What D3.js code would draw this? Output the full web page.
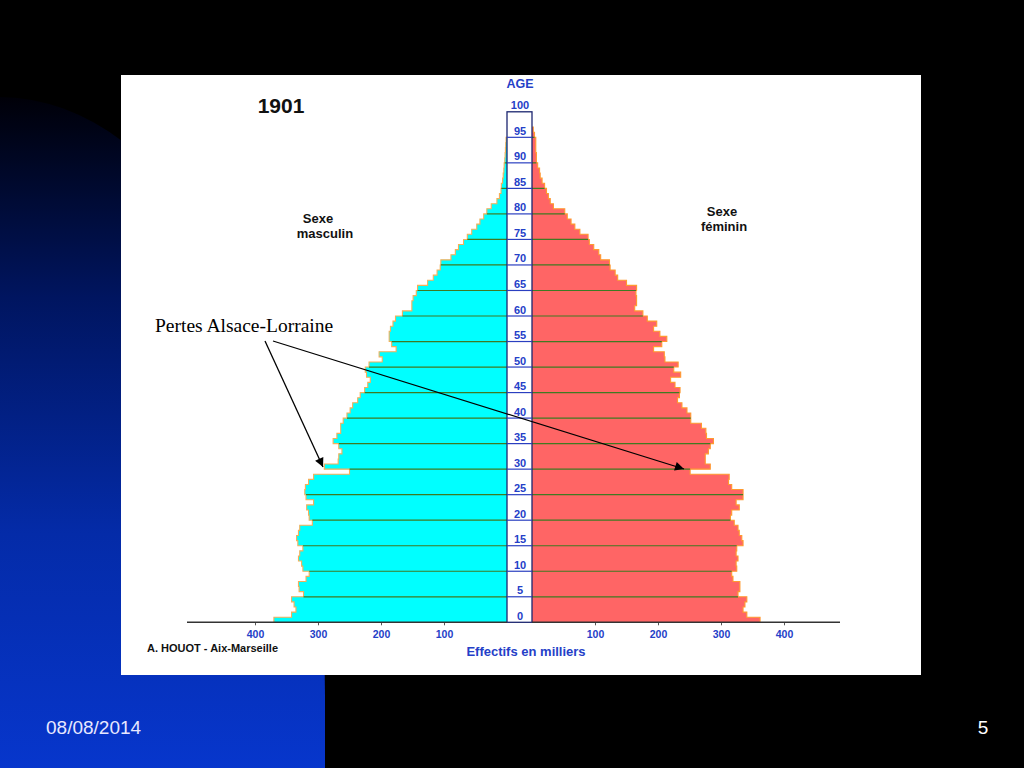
<!DOCTYPE html>
<html><head><meta charset="utf-8">
<script src="https://cdn.jsdelivr.net/npm/d3@7"></script>
<style>html,body{margin:0;padding:0;background:#000;}svg{display:block;}</style>
</head><body>
<svg id="c" width="1024" height="768"></svg>
<script>
// Population 1901, thousands, by single year of age (index = age 0..99)
const ages = d3.range(0, 100);
const males = [
 370,342,335,338,342,323,330,331,319,314,
 324,326,331,329,324,332,334,331,329,309,
 314,315,318,307,319,321,320,315,307,250,
 290,268,267,262,267,276,270,264,264,260,
 254,249,245,237,233,226,221,217,223,225,
 219,198,203,176,183,187,187,185,181,177,
 166,151,151,149,144,142,126,117,111,106,
 105,89,82,77,69,63,56,48,43,37,
 32,25,16,12,9.5,9,7,6,5,4.5,
 3.5,3,2.5,2,1.5,0,0,0,0,0];
const females = [
 362,341,335,338,341,327,330,330,319,317,
 325,324,327,324,325,335,333,329,327,321,
 315,317,329,324,335,335,317,312,313,251,
 283,275,275,280,283,288,277,276,269,252,
 252,246,238,231,234,235,227,220,236,225,
 232,211,210,193,206,214,203,193,198,183,
 176,163,166,166,165,166,150,136,132,124,
 123,109,106,98,91,89,76,68,62,56,
 52,34,29,26,23,20,16,13,12,9,
 7,7,6,6,6,4,2,0,0,0];
const ageTicks = d3.range(0, 101, 5);
const xTicks = [100, 200, 300, 400];

const svg = d3.select("#c");
const defs = svg.append("defs");
const grad = defs.append("linearGradient").attr("id","bg").attr("gradientUnits","userSpaceOnUse")
  .attr("x1",0).attr("y1",97).attr("x2",0).attr("y2",768);
[[0,"#000008"],[0.3,"#001560"],[0.65,"#042ba8"],[1,"#0736cc"]].forEach(s=>
  grad.append("stop").attr("offset",s[0]).attr("stop-color",s[1]));

svg.append("rect").attr("width",1024).attr("height",768).attr("fill","#000");
svg.append("path").attr("d","M0,97 A325,600 0 0 1 325,697 L325,768 L0,768 Z").attr("fill","url(#bg)");
svg.append("rect").attr("x",121).attr("y",75).attr("width",800).attr("height",600).attr("fill","#fff");

const y = d3.scaleLinear().domain([0,100]).range([622.3,111.8]);
const xL = d3.scaleLinear().domain([0,400]).range([507,255]);
const xR = d3.scaleLinear().domain([0,400]).range([532,784]);

function drawSide(vals, xs, fill, edge) {
  const pts = [[xs(0), y(0)]];
  const edgePts = [];
  vals.forEach((v,a)=>{
    if (v <= 0) return;
    pts.push([xs(v), y(a)], [xs(v), y(a+1)]);
    edgePts.push([xs(v), y(a)], [xs(v), y(a+1)]);
  });
  const last = vals.reduce((m,v,i)=> v>0 ? i : m, 0);
  pts.push([xs(0), y(last+1)]);
  edgePts.push([xs(0), y(last+1)]);
  const line = d3.line();
  svg.append("path").attr("d", line(pts)+"Z").attr("fill", fill);
  svg.append("path").attr("d", line(edgePts)).attr("fill","none")
    .attr("stroke", edge).attr("stroke-width",1.1);
  svg.append("g").selectAll("line").data(ageTicks.filter(a=>a>0 && a<=last))
    .join("line")
    .attr("x1", xs(0)).attr("x2", a=>xs(Math.min(vals[a-1], vals[a])))
    .attr("y1", a=>y(a)).attr("y2", a=>y(a))
    .attr("stroke", "#3f7a22").attr("stroke-width",1.2);
}
drawSide(males, xL, "#00ffff", "#f4b05a");
drawSide(females, xR, "#ff6565", "#ff9a30");

// central age box
svg.append("rect").attr("x",xL(0)).attr("y",y(100)).attr("width",xR(0)-xL(0)).attr("height",y(0)-y(100))
  .attr("fill","#fff").attr("stroke","#1c2670").attr("stroke-width",1.3);
svg.append("g").selectAll("line").data(ageTicks.filter(a=>a>0 && a<100)).join("line")
  .attr("x1",xL(0)).attr("x2",xR(0)).attr("y1",a=>y(a)).attr("y2",a=>y(a))
  .attr("stroke","#2a3fc0").attr("stroke-width",1.2);
svg.append("g").selectAll("text").data(ageTicks).join("text")
  .attr("x",520).attr("y",a=>y(a)-2.5).attr("text-anchor","middle")
  .attr("font-family","Liberation Sans, Arial, sans-serif").attr("font-weight","bold")
  .attr("font-size",11).attr("fill","#2440c8").text(d=>d);

function axis(xs, x0, x1) {
  const g = svg.append("g").attr("transform",`translate(0,${y(0)})`)
    .call(d3.axisBottom(xs).tickValues(xTicks).tickSize(3).tickPadding(5));
  g.select(".domain").remove();
  g.selectAll(".tick line").attr("stroke","#555");
  g.selectAll(".tick text").attr("font-family","Liberation Sans, Arial, sans-serif")
    .attr("font-weight","bold").attr("font-size",10.5).attr("fill","#2440c8");
  svg.append("line").attr("x1",x0).attr("x2",x1).attr("y1",y(0)).attr("y2",y(0))
    .attr("stroke","#333").attr("stroke-width",1.5);
}
axis(xL, 187, xL(0));
axis(xR, xR(0), 840);

const sans = "Liberation Sans, Arial, sans-serif";
function txt(x, yy, s, size, color, weight, anchor, family) {
  svg.append("text").attr("x",x).attr("y",yy).attr("font-family",family||sans)
    .attr("font-size",size).attr("font-weight",weight||"bold").attr("fill",color)
    .attr("text-anchor",anchor||"middle").text(s);
}
txt(281, 113, "1901", 21, "#111");
txt(520, 88, "AGE", 12.5, "#2440c8");
txt(318, 223, "Sexe", 13, "#111");
txt(325, 238, "masculin", 13, "#111");
txt(722, 216, "Sexe", 13, "#111");
txt(724, 231, "féminin", 13, "#111");
txt(147, 652, "A. HOUOT - Aix-Marseille", 11, "#111", "bold", "start");
txt(526, 656, "Effectifs en milliers", 13, "#2440c8");
txt(155, 332, "Pertes Alsace-Lorraine", 19.5, "#000", "normal", "start", "Liberation Serif, Times New Roman, serif");
txt(46, 734, "08/08/2014", 19, "#e8e8ff", "normal", "start");
txt(983, 734, "5", 19, "#ffffff", "normal", "middle");

defs.append("marker").attr("id","ah").attr("viewBox","0 0 10 10").attr("refX",10).attr("refY",5)
  .attr("markerWidth",11).attr("markerHeight",9).attr("markerUnits","userSpaceOnUse").attr("orient","auto")
  .append("path").attr("d","M0,0 L10,5 L0,10 Z").attr("fill","#000");
[[265,341,323,467],[273,341,684,469]].forEach(a=>
  svg.append("line").attr("x1",a[0]).attr("y1",a[1]).attr("x2",a[2]).attr("y2",a[3])
    .attr("stroke","#000").attr("stroke-width",1.3).attr("marker-end","url(#ah)"));
</script>
</body></html>
